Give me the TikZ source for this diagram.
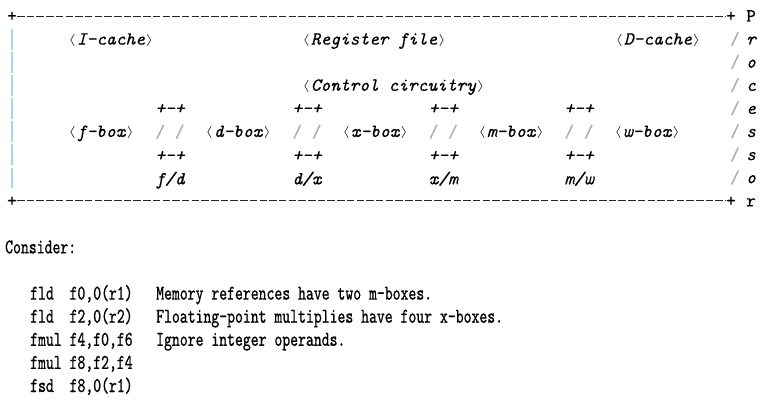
\documentclass[tikz,border=0pt]{standalone}
\usepackage{fontspec}
\usepackage{graphicx}
\usetikzlibrary{positioning}
\newfontfamily\pipefont{lmmono10-regular.otf}[ItalicFont=lmmono10-italic.otf, FakeStretch=1.0, FakeBold=0.4]
\newfontfamily\listfont{lmmono10-regular.otf}[FakeStretch=0.715, FakeBold=0.8]
\definecolor{barblue}{RGB}{166,212,236}
\definecolor{slashgray}{RGB}{172,172,172}
\newcommand{\openangle}{\makebox[9.7pt]{\raisebox{1.5pt}{\resizebox*{7pt}{12pt}{$\langle$}}}}
\newcommand{\closeangle}{\makebox[9.7pt]{\raisebox{1.5pt}{\resizebox*{7pt}{12pt}{$\rangle$}}}}
\newcommand{\unitname}[1]{\openangle#1\closeangle}
\tikzset{%
  % text of the pipeline picture
      stagetext/.style = {inner sep=0pt, anchor=west, text height=11pt, text depth=0pt,
                          font=\pipefont\itshape\fontsize{18.5pt}{22pt}\selectfont},
       uprtext/.style = {stagetext, font=\pipefont\fontsize{18.5pt}{22pt}\selectfont},
         corner/.style = {uprtext, anchor=center},
      latchrow/.style = {stagetext, anchor=center},
     latchside/.style = {uprtext, anchor=center, text=slashgray},
  % text of the listing
       listtext/.style = {inner sep=0pt, anchor=west, text height=12.8pt, text depth=0pt,
                          font=\listfont\fontsize{21pt}{25pt}\selectfont},
  % frame
        border/.style = {draw=black!85, line width=0.9pt, dash pattern=on 7.5pt off 2.2pt},
       leftbar/.style = {draw=barblue, line width=2pt, dash pattern=on 20.6pt off 2.5pt},
}
\begin{document}
\begin{tikzpicture}[x=1pt, y=-1pt, node distance=12.1pt]
  \useasboundingbox (0,0) rectangle (782,403);

  % frame
  \node (tl) [corner] at (12,16)    {+};
  \node (tr) [corner] at (731,16)   {+};
  \node (bl) [corner] at (12,200.8) {+};
  \node (br) [corner] at (731,200.8){+};
  \draw[border] (tl) -- (tr);
  \draw[border] (bl) -- (br);
  \draw[leftbar] ([yshift=-13pt]tl.center) -- ([yshift=11pt]bl.center);

  % right side
  \node (p) [uprtext] at (746,16) {P};
  \foreach \r/\ch [count=\i] in {39.1/r, 62.2/o, 85.3/c, 108.4/e, 131.5/s, 154.6/s, 177.7/o} {
    \node (side\i) [latchside] at (735,\r) {/};
    \node (name\i) [stagetext] at (746,\r) {\ch};
  }
  \node (r) [uprtext] at (746,200.8) {r};

  % units
  \node (icache)  [stagetext] at (67,39.1)  {\unitname{I-cache}};
  \node (regfile) [stagetext] at (301,39.1) {\unitname{Register file}};
  \node (dcache)  [stagetext] at (614,39.1) {\unitname{D-cache}};
  \node (control) [stagetext] at (301,85.3) {\unitname{Control circuitry}};

  \node (fbox) [stagetext] at (67,131.5)  {\unitname{f-box}};
  \node (dbox) [stagetext] at (204,131.5) {\unitname{d-box}};
  \node (xbox) [stagetext] at (341,131.5) {\unitname{x-box}};
  \node (mbox) [stagetext] at (477,131.5) {\unitname{m-box}};
  \node (wbox) [stagetext] at (613,131.5) {\unitname{w-box}};

  % latches
  \foreach \x/\stage [count=\i] in {170/{f/d}, 307/{d/x}, 443.3/{x/m}, 579/{m/w}} {
    \node (top\i) [latchrow] at (\x,108.4) {+-+};
    \node (mid\i) [latchside, below=of top\i] {/~/};
    \node (bot\i) [latchrow, below=of mid\i] {+-+};
    \node (lab\i) [latchrow, below=of bot\i] {\stage};
  }

  % listing
  \node (consider) [listtext] at (5,247) {Consider:};
  \foreach \op/\args [count=\i from 0] in {fld/{f0,0(r1)}, fld/{f2,0(r2)},
      fmul/{f4,f0,f6}, fmul/{f8,f2,f4}, fsd/{f8,0(r1)}} {
    \node (op\i)  [listtext] at (30,{293.2+23.1*\i})   {\op};
    \node (arg\i) [listtext] at (69.4,{293.2+23.1*\i}) {\args};
  }
  \foreach \note [count=\i from 0] in {{Memory references have two m-boxes.},
      {Floating-point multiplies have four x-boxes.}, {Ignore integer operands.}} {
    \node (note\i) [listtext] at (156,{293.2+23.1*\i}) {\note};
  }
\end{tikzpicture}
\end{document}
